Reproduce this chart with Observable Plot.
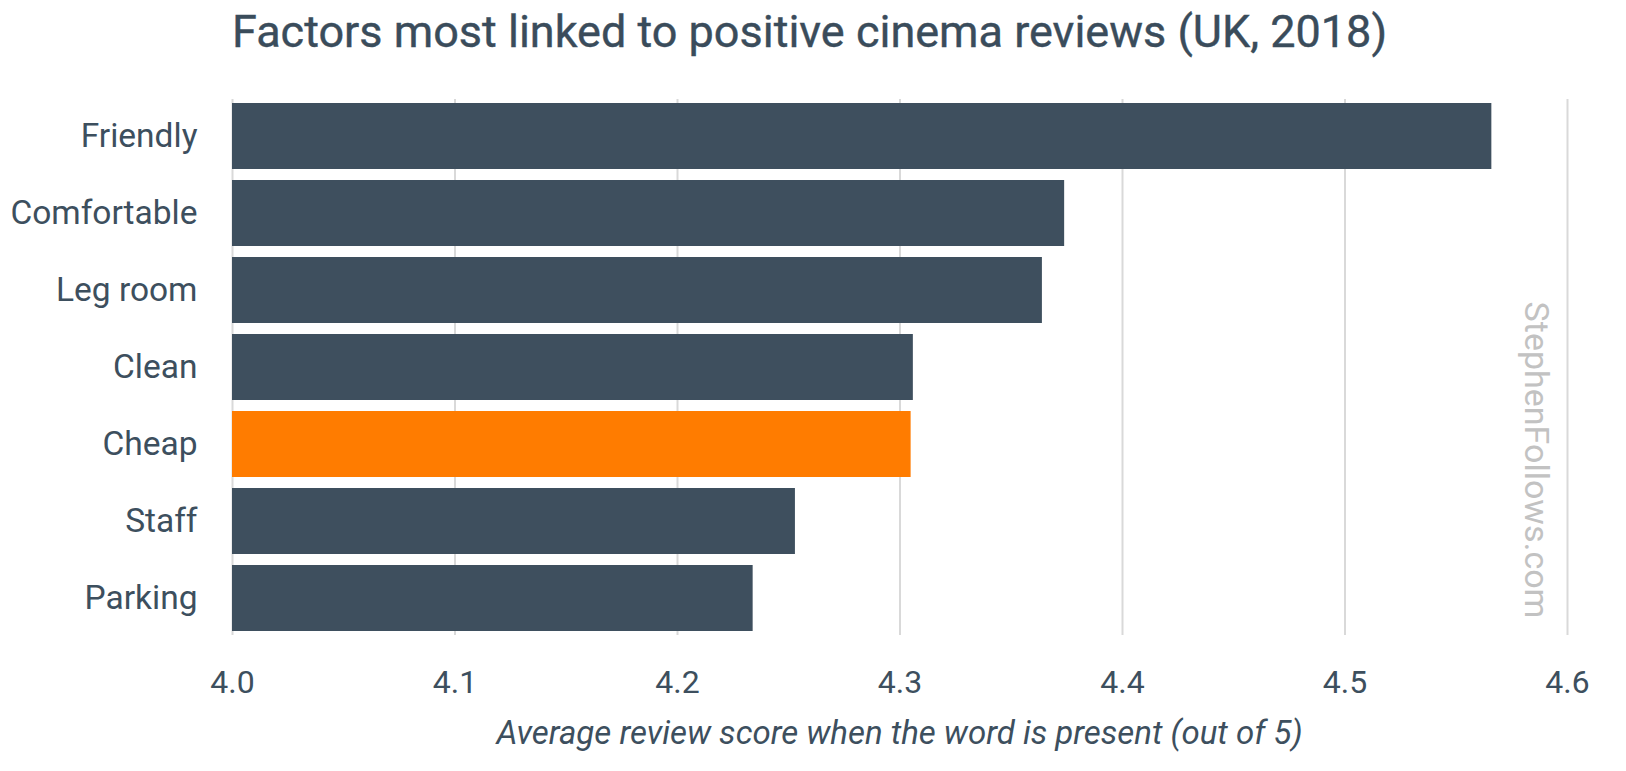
<!DOCTYPE html>
<html>
<head>
<meta charset="utf-8">
<script src="https://cdn.jsdelivr.net/npm/d3@7"></script>
<script src="https://cdn.jsdelivr.net/npm/@observablehq/plot@0.6"></script>
<style>
  html, body { margin: 0; padding: 0; background: #fff; }
  #wrap { position: relative; width: 1626px; height: 771px; font-family: Roboto, sans-serif; overflow: hidden; }
  #chart { position: absolute; left: 0; top: 0; }
  #title { position: absolute; left: 232px; top: 9px; font-size: 45px; font-weight: 400; line-height: 1; color: #3a4c5b; white-space: nowrap; -webkit-text-stroke: 0.4px #3a4c5b; }
  #xlabel { position: absolute; left: 232px; width: 1335px; top: 716px; text-align: center; font-size: 33px; line-height: 1; font-style: italic; color: #3d4f5e; white-space: nowrap; }
  #mark { position: absolute; left: 1537px; top: 460px; transform: translate(-50%, -50%) rotate(90deg); font-size: 34px; line-height: 1; color: #c2c2c2; white-space: nowrap; }
</style>
</head>
<body>
<div id="wrap">
  <div id="chart"></div>
  <div id="title">Factors most linked to positive cinema reviews (UK, 2018)</div>
  <div id="xlabel">Average review score when the word is present (out of 5)</div>
  <div id="mark">StephenFollows.com</div>
</div>
<script>
const factors = ["Friendly", "Comfortable", "Leg room", "Clean", "Cheap", "Staff", "Parking"];
const scores = [4.566, 4.374, 4.364, 4.306, 4.305, 4.253, 4.234];
const highlight = ["Cheap"];
const xTicks = [4.0, 4.1, 4.2, 4.3, 4.4, 4.5, 4.6];

const data = factors.map((f, i) => ({factor: f, score: scores[i]}));

const chart = Plot.plot({
  width: 1626,
  height: 771,
  marginTop: 99,
  marginBottom: 136,
  marginLeft: 232,
  marginRight: 59,
  style: {fontFamily: "Roboto, sans-serif", color: "#3d4f5e", background: "#fff"},
  x: {domain: [4.0, 4.6]},
  y: {domain: factors, paddingInner: 0.138, paddingOuter: 0.04},
  marks: [
    Plot.ruleX(xTicks, {stroke: "#d9d9d9", strokeWidth: 2}),
    Plot.barX(data, {
      x1: 4.0,
      x2: "score",
      y: "factor",
      fill: d => highlight.includes(d.factor) ? "#ff7c00" : "#3e4f5e"
    }),
    Plot.axisX({ticks: xTicks, tickFormat: d3.format(".1f"), tickSize: 0, tickPadding: 35, fontSize: 32, label: null}),
    Plot.axisY({tickSize: 0, tickPadding: 35, fontSize: 33.5, label: null})
  ]
});
document.getElementById("chart").appendChild(chart);
</script>
</body>
</html>
